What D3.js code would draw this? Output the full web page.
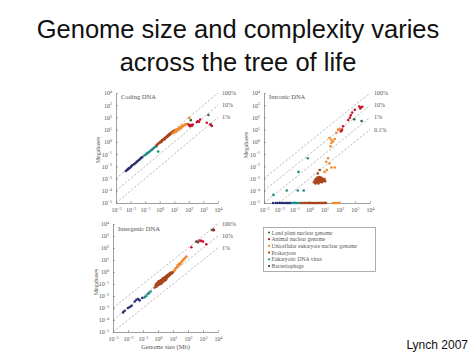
<!DOCTYPE html>
<html><head><meta charset="utf-8">
<script src="https://cdn.jsdelivr.net/npm/d3@7"></script>
<style>body{margin:0;background:#fff;} svg{display:block;}</style>
</head><body>
<svg id="chart" width="474" height="355"></svg>
<script>
// ---------- data ----------
const titleLines = ["Genome size and complexity varies", "across the tree of life"];
const credit = "Lynch 2007";
const categories = ["Land plant nuclear genome", "Animal nuclear genome", "Unicellular eukaryote nuclear genome", "Prokaryote", "Eukaryotic DNA virus", "Bacteriophage"];
const categoryColors = ["#2f6e3b", "#c8142e", "#f08a2c", "#a9461f", "#1f8c88", "#262e72"];
const xTickExponents = [-3, -2, -1, 0, 1, 2, 3, 4];
const yTickExponents = [-5, -4, -3, -2, -1, 0, 1, 2, 3, 4];
const panelTitles = ["Coding DNA", "Intronic DNA", "Intergenic DNA"];
const fractions3 = [1, 0.1, 0.01];
const fractionLabels3 = ["100%", "10%", "1%"];
const fractions4 = [1, 0.1, 0.01, 0.001];
const fractionLabels4 = ["100%", "10%", "1%", "0.1%"];

// Coding DNA: [genome size Mb, coding Mb]
const codingPlant = [[135, 60], [2200, 160]];
const codingAnimal = [[95, 27], [110, 22], [120, 19], [140, 24], [160, 21], [180, 26], [350, 42], [420, 48], [500, 45], [600, 68], [1700, 37], [3000, 28], [3300, 24], [3800, 20]];
const codingUnicell = [[105, 95], [8, 5], [9, 5.5], [10, 6], [11, 7], [12, 6.5], [13, 8], [14, 7], [15, 9], [17, 9], [19, 10], [20, 12], [22, 11], [25, 13], [28, 15], [30, 14], [33, 17], [36, 18], [40, 20], [45, 22], [50, 25], [55, 24], [60, 28], [70, 30], [12, 9], [16, 11], [24, 16], [35, 22]];
const codingProk = [[0.6, 0.52], [0.7, 0.63], [0.8, 0.7], [0.9, 0.8], [1.0, 0.85], [1.1, 0.97], [1.2, 1.05], [1.4, 1.2], [1.5, 1.35], [1.6, 1.4], [1.8, 1.55], [2.0, 1.8], [2.2, 1.9], [2.4, 2.1], [2.6, 2.3], [2.8, 2.4], [3.0, 2.7], [3.2, 2.8], [3.5, 3.1], [3.8, 3.3], [4.0, 3.6], [4.3, 3.8], [4.6, 4.0], [5.0, 4.5], [5.3, 4.6], [5.7, 5.0], [6.0, 5.3], [6.5, 5.6], [7.0, 6.2], [7.5, 6.5], [8.0, 7.0], [9.0, 7.8], [10, 8.6], [1.3, 1.0], [2.1, 1.6], [3.3, 2.5], [4.8, 3.6], [2.5, 2.2], [1.7, 1.5], [3.6, 3.2]];
const codingVirus = [[0.09, 0.08], [0.1, 0.085], [0.12, 0.1], [0.14, 0.12], [0.16, 0.13], [0.19, 0.15], [0.23, 0.19], [0.28, 0.22], [0.33, 0.27], [0.4, 0.32], [0.5, 0.4], [0.6, 0.45], [0.78, 0.16]];
const codingPhage = [[0.0047, 0.0042], [0.0058, 0.005], [0.0065, 0.0058], [0.0075, 0.0068], [0.009, 0.0075], [0.011, 0.0095], [0.013, 0.012], [0.017, 0.015], [0.021, 0.018], [0.026, 0.023], [0.032, 0.028], [0.04, 0.035], [0.048, 0.043], [0.055, 0.05], [0.065, 0.058]];

// Intronic DNA: [genome size Mb, intron Mb] (1e-5 = none, plotted on the axis)
const intronPlant = [[900, 70], [2800, 50]];
const intronAnimal = [[117, 7.4], [144, 10], [167, 19], [360, 62], [466, 95], [540, 148], [667, 250], [1000, 417], [1950, 790], [2500, 650], [2300, 540], [3100, 740]];
const intronUnicell = [[21, 2.1], [28, 1.5], [36, 1.1], [47, 1.7], [28, 0.8], [25, 0.43], [17, 0.046], [13, 0.024], [21, 0.017], [28, 0.008], [47, 0.008], [14, 0.0049], [10, 0.0035], [60, 5.4], [78, 10], [100, 12], [130, 7.4], [35, 0.00001], [45, 0.00001], [55, 0.00001], [70, 0.00001], [85, 0.00001]];
const intronProk = [[2.0, 0.0005], [2.3, 0.0007], [2.5, 0.0004], [2.8, 0.0006], [3.0, 0.0008], [3.2, 0.0005], [3.5, 0.0007], [3.7, 0.001], [4.0, 0.0006], [4.2, 0.0009], [4.5, 0.0007], [4.8, 0.0005], [5.0, 0.0008], [5.3, 0.0011], [5.6, 0.0006], [6.0, 0.0009], [6.5, 0.0007], [7.0, 0.001], [7.5, 0.0006], [8.0, 0.0008], [9.0, 0.0007], [10, 0.0009], [11, 0.0006], [3.3, 0.0012], [4.4, 0.0013], [2.6, 0.0009], [5.8, 0.0012], [3.9, 0.0004], [6.8, 0.0005], [3.6, 0.0026], [4.8, 0.005], [0.3, 0.00001], [0.4, 0.00001], [0.5, 0.00001], [0.6, 0.00001], [0.75, 0.00001], [0.9, 0.00001], [1.1, 0.00001], [1.3, 0.00001], [1.6, 0.00001], [1.9, 0.00001], [2.3, 0.00001], [2.8, 0.00001], [3.4, 0.00001], [4.1, 0.00001], [5.0, 0.00001], [6.0, 0.00001], [7.3, 0.00001], [8.8, 0.00001], [10.5, 0.00001], [12.5, 0.00001]];
const intronVirus = [[0.0042, 0.000046], [0.032, 0.000105], [0.17, 0.000105], [0.42, 0.000105], [0.19, 0.0035], [0.78, 0.046], [0.07, 0.00001], [0.09, 0.00001], [0.12, 0.00001], [0.15, 0.00001], [0.2, 0.00001], [0.26, 0.00001]];
const intronPhage = [[0.004, 0.00001], [0.006, 0.00001], [0.008, 0.00001], [0.011, 0.00001], [0.015, 0.00001], [0.02, 0.00001], [0.027, 0.00001], [0.035, 0.00001], [0.045, 0.00001], [0.055, 0.00001]];

// Intergenic DNA: [genome size Mb, intergenic Mb]
const interPlant = [[420, 330], [4000, 3200]];
const interAnimal = [[167, 115], [360, 340], [460, 300], [600, 417], [770, 390], [1000, 340], [1660, 205], [4600, 3160], [5000, 3400], [5300, 3000]];
const interUnicell = [[13, 1.5], [18.6, 2.5], [28, 5.4], [36, 6.2], [47, 10], [60, 14], [78, 19], [21, 4], [12, 1.2], [15, 2], [20, 3], [25, 4], [30, 4.5], [40, 8], [50, 11], [70, 17]];
const interProk = [[0.6, 0.05], [0.7, 0.08], [0.8, 0.06], [0.9, 0.1], [1.0, 0.08], [1.0, 0.13], [1.1, 0.1], [1.2, 0.15], [1.2, 0.09], [1.3, 0.12], [1.4, 0.18], [1.5, 0.13], [1.5, 0.2], [1.6, 0.16], [1.7, 0.11], [1.8, 0.22], [1.9, 0.17], [2.0, 0.25], [2.0, 0.14], [2.2, 0.2], [2.3, 0.28], [2.5, 0.19], [2.5, 0.32], [2.7, 0.24], [2.8, 0.36], [3.0, 0.27], [3.0, 0.2], [3.2, 0.4], [3.4, 0.3], [3.6, 0.45], [3.8, 0.33], [4.0, 0.5], [4.2, 0.38], [4.5, 0.55], [4.8, 0.42], [5.0, 0.6], [5.3, 0.5], [5.6, 0.7], [6.0, 0.55], [6.5, 0.8], [7.0, 0.65], [7.5, 0.9], [8.0, 0.75], [9.0, 0.85], [10, 1.0], [1.1, 0.17], [1.4, 0.1], [2.1, 0.3], [0.8, 0.11], [3.5, 0.24]];
const interVirus = [[0.13, 0.008], [0.17, 0.0105], [0.25, 0.017], [0.32, 0.024], [0.21, 0.0155]];
const interPhage = [[0.0047, 0.00043], [0.006, 0.00059], [0.01, 0.001], [0.013, 0.0012], [0.017, 0.0015], [0.028, 0.0035], [0.036, 0.0049], [0.047, 0.0055], [0.06, 0.0043], [0.09, 0.0068]];

// ---------- drawing ----------
const svg = d3.select("#chart");
const serif = "'Liberation Serif','Times New Roman',serif";
const textGray = "#555";

svg.selectAll("text.title").data(titleLines).join("text")
  .attr("class", "title")
  .attr("x", 238).attr("y", (d, i) => 38 + i * 33)
  .attr("text-anchor", "middle")
  .attr("font-family", "'Liberation Sans',Arial,sans-serif")
  .attr("font-size", 25.5).attr("fill", "#111")
  .text(d => d);

svg.append("text").attr("x", 468).attr("y", 349).attr("text-anchor", "end")
  .attr("font-family", "'Liberation Sans',Arial,sans-serif").attr("font-size", 12)
  .attr("fill", "#111").text(credit);

const panels = [
  {x0: 116, x1: 218, yb: 203, yt: 93, title: panelTitles[0], tx: 121, ty: 99, ylx: 100, yly: 150,
   fr: fractions3, fl: fractionLabels3,
   series: [codingPhage, codingVirus, codingProk, codingUnicell, codingAnimal, codingPlant]},
  {x0: 264, x1: 370, yb: 203, yt: 93, title: panelTitles[1], tx: 269, ty: 99, ylx: 248, yly: 145,
   fr: fractions4, fl: fractionLabels4,
   series: [intronPhage, intronVirus, intronProk, intronUnicell, intronAnimal, intronPlant]},
  {x0: 113, x1: 218, yb: 332, yt: 224, title: panelTitles[2], tx: 118, ty: 231, ylx: 98, yly: 282,
   fr: fractions3, fl: fractionLabels3, xlabel: "Genome size (Mb)",
   series: [interPhage, interVirus, interProk, interUnicell, interAnimal, interPlant]}
];
const seriesColorIdx = [5, 4, 3, 2, 1, 0];

function supLabel(sel) {
  sel.each(function(d) {
    const t = d3.select(this);
    const e = Math.round(Math.log10(d));
    t.text(null);
    t.append("tspan").text("10");
    t.append("tspan").attr("font-size", 4).attr("dy", -2.3).text(e < 0 ? "\u2212" + (-e) : e);
  });
}

panels.forEach(p => {
  const x = d3.scaleLog().domain([1e-3, 1e4]).range([p.x0, p.x1]);
  const y = d3.scaleLog().domain([1e-5, 1e4]).range([p.yb, p.yt]);
  const g = svg.append("g");

  p.fr.forEach((f, i) => {
    const xs = Math.max(1e-3, 1e-5 / f);
    g.append("line")
      .attr("x1", x(xs)).attr("y1", y(xs * f))
      .attr("x2", x(1e4)).attr("y2", y(1e4 * f))
      .attr("stroke", "#8a8a8a").attr("stroke-width", 0.6).attr("stroke-dasharray", "2.2,1.8");
    g.append("text").attr("x", x(1e4) + 4).attr("y", y(1e4 * f) + 2)
      .attr("font-family", serif).attr("font-size", 6).attr("fill", textGray).text(p.fl[i]);
  });

  const xa = g.append("g").attr("transform", `translate(0,${p.yb})`)
    .call(d3.axisBottom(x).tickValues(xTickExponents.map(e => Math.pow(10, e))).tickSizeInner(-2).tickSizeOuter(0).tickPadding(4));
  const ya = g.append("g").attr("transform", `translate(${p.x0},0)`)
    .call(d3.axisLeft(y).tickValues(yTickExponents.map(e => Math.pow(10, e))).tickSizeInner(-2).tickSizeOuter(0).tickPadding(4));
  [xa, ya].forEach(a => {
    a.select(".domain").attr("stroke", "#777").attr("stroke-width", 0.7);
    a.selectAll(".tick line").attr("stroke", "#777").attr("stroke-width", 0.6);
    a.selectAll(".tick text").attr("font-family", serif).attr("font-size", 6).attr("fill", textGray).call(supLabel);
  });
  xa.selectAll(".tick text").attr("dy", "0.9em");

  p.series.forEach((s, si) => {
    g.append("g").selectAll("circle").data(s).join("circle")
      .attr("cx", d => x(d[0])).attr("cy", d => y(d[1])).attr("r", 1.3)
      .attr("fill", categoryColors[seriesColorIdx[si]]);
  });

  g.append("text").attr("x", p.tx).attr("y", p.ty)
    .attr("font-family", serif).attr("font-size", 6.5).attr("fill", textGray).text(p.title);
  g.append("text").attr("transform", `translate(${p.ylx},${p.yly}) rotate(-90)`)
    .attr("text-anchor", "middle").attr("font-family", serif).attr("font-size", 6)
    .attr("fill", textGray).text("Megabases");
  if (p.xlabel) {
    g.append("text").attr("x", (p.x0 + p.x1) / 2).attr("y", 349).attr("text-anchor", "middle")
      .attr("font-family", serif).attr("font-size", 6.5).attr("fill", textGray).text(p.xlabel);
  }
});

const lg = svg.append("g");
lg.append("rect").attr("x", 263.5).attr("y", 227.5).attr("width", 112).attr("height", 44)
  .attr("fill", "#fff").attr("stroke", "#999").attr("stroke-width", 0.8);
const rows = lg.selectAll("g.row").data(categories).join("g").attr("class", "row")
  .attr("transform", (d, i) => `translate(269,${232.5 + i * 6.7})`);
rows.append("circle").attr("r", 1.1).attr("fill", (d, i) => categoryColors[i]);
rows.append("text").attr("x", 2.5).attr("y", 2).attr("font-family", serif).attr("font-size", 5.6)
  .attr("fill", textGray).text(d => d);
</script>
</body></html>
